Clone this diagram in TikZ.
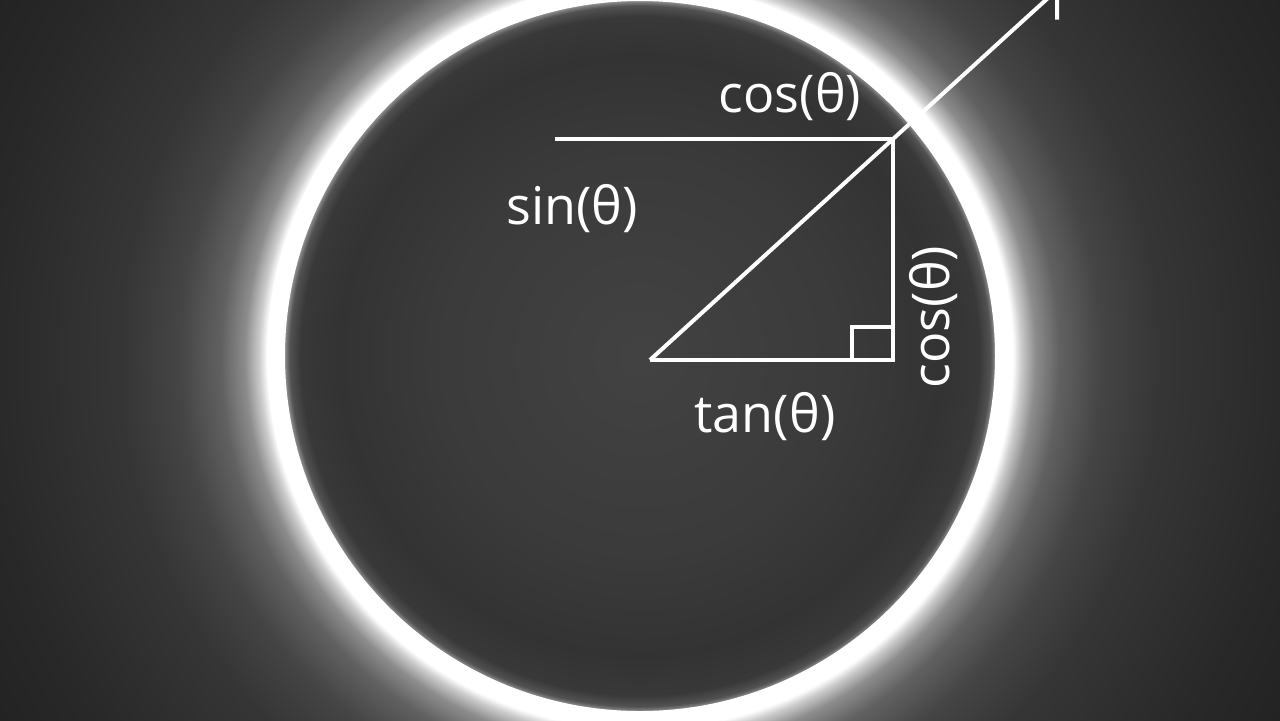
\documentclass[tikz,border=0pt]{standalone}
\usepackage{fontspec}
\setmainfont{Open Sans}
\usetikzlibrary{arrows.meta}
\pgfdeclareradialshading{glowring}{\pgfpoint{0bp}{0bp}}{%
rgb(0bp)=(0.26,0.26,0.26);
rgb(6.25bp)=(0.23,0.23,0.23);
rgb(9.4bp)=(0.2,0.2,0.2);
rgb(10.6bp)=(0.22,0.22,0.22);
rgb(10.95bp)=(0.32,0.32,0.32);
rgb(11.1bp)=(0.55,0.55,0.55);
rgb(11.65bp)=(1,1,1);
rgb(11.9bp)=(0.8,0.8,0.8);
rgb(12.35bp)=(0.55,0.55,0.55);
rgb(13.1bp)=(0.38,0.38,0.38);
rgb(14.4bp)=(0.27,0.27,0.27);
rgb(16.25bp)=(0.21,0.21,0.21);
rgb(20.3bp)=(0.16,0.16,0.16);
rgb(25bp)=(0.12,0.12,0.12)}
\begin{document}
\begin{tikzpicture}[x=0.5pt,y=-0.5pt,
  wline/.style={draw=white, line width=2pt},
  ring/.style={draw=white, line width=9pt},
  lbl/.style={text=white, font=\fontsize{26}{30}\selectfont, inner sep=0pt}]
\useasboundingbox (0,0) rectangle (1280,720);
\begin{scope}
  \clip (0,0) rectangle (1280,720);
  \fill[black!85] (0,0) rectangle (1280,720);
  \shade[shading=glowring] (640,356) circle (800);
  \draw[ring] (640,356) circle (364);
\end{scope}
% geometry
\coordinate (O) at (650,360);
\coordinate (A) at (893,360);
\coordinate (P) at (893,139);
\coordinate (L) at (555,139);
\coordinate (T) at (1059,-12);
\coordinate (S1) at (852,360);
\coordinate (S2) at (852,327);
\coordinate (S3) at (893,327);
\draw[wline] (O) -- (A) -- (P);
\draw[wline] (L) -- (P);
\draw[wline, -{Straight Barb[length=10pt, width=22pt, line width=2pt]}] (O) -- (T);
\draw[wline] (S1) -- (S2) -- (S3);
% labels
\node[lbl] (cosTop) at (790,97) {cos(θ)};
\node[lbl] (sinL) at (572,209) {sin(θ)};
\node[lbl] (tanL) at (765,417) {tan(θ)};
\node[lbl, rotate=90] (cosR) at (934,317) {cos(θ)};
\end{tikzpicture}
\end{document}
